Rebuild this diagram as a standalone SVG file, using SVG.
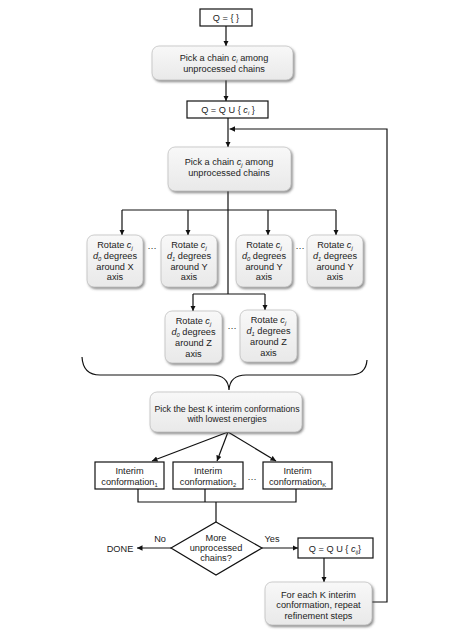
<svg xmlns="http://www.w3.org/2000/svg" width="474" height="631" viewBox="0 0 474 631">
<defs>
<linearGradient id="g" x1="0" y1="0" x2="0" y2="1">
<stop offset="0" stop-color="#f8f8f8"/>
<stop offset="1" stop-color="#e9e9e9"/>
</linearGradient>
<filter id="sh" x="-20%" y="-20%" width="140%" height="150%">
<feDropShadow dx="1.5" dy="1.8" stdDeviation="1" flood-color="#444" flood-opacity="0.6"/>
</filter>
<marker id="ah" viewBox="0 0 10 10" refX="10" refY="5" markerWidth="5.5" markerHeight="5.5" orient="auto" markerUnits="userSpaceOnUse">
<path d="M0,0 L10,5 L0,10 z" fill="#111"/>
</marker>
<style>
text{font-family:"Liberation Sans",Arial,sans-serif;font-size:9.2px;fill:#222;text-anchor:middle}
.rb{fill:url(#g);stroke:#b0b0b0;stroke-width:0.6;filter:url(#sh)}
.sb{fill:#fff;stroke:#111;stroke-width:1.2}
.ln{fill:none;stroke:#111;stroke-width:1.2}
.ar{fill:none;stroke:#111;stroke-width:1.2;marker-end:url(#ah)}
.it{font-style:italic}
.sub{font-size:5.8px}
.sm{font-size:8.8px}
</style>
</defs>
<rect width="474" height="631" fill="#fff"/>

<g id="connectors">
<line class="ar" x1="226" y1="26" x2="226" y2="46"/>
<line class="ar" x1="226" y1="80" x2="226" y2="101"/>
<line class="ar" x1="228" y1="118" x2="228" y2="147"/>
<polyline class="ar" points="372,602 387,602 387,129 229.5,129"/>
<line class="ln" x1="228" y1="191" x2="228" y2="294"/>
<line class="ln" x1="122" y1="210" x2="336" y2="210"/>
<line class="ar" x1="122" y1="210" x2="122" y2="235"/>
<line class="ar" x1="188" y1="210" x2="188" y2="235"/>
<line class="ar" x1="268" y1="210" x2="268" y2="235"/>
<line class="ar" x1="336" y1="210" x2="336" y2="235"/>
<line class="ln" x1="193" y1="294" x2="265" y2="294"/>
<line class="ar" x1="193" y1="294" x2="193" y2="311"/>
<line class="ar" x1="265" y1="294" x2="265" y2="310"/>
<path class="ln" d="M82,357 Q83,375 100,375 L212,375 Q228,375 229,390 Q230,375 246,375 L350,375 Q366,375 367,360"/>
<line class="ar" x1="228" y1="432" x2="152" y2="461"/>
<line class="ar" x1="228" y1="432" x2="217" y2="461"/>
<line class="ar" x1="228" y1="432" x2="276" y2="461"/>
<polyline class="ln" points="138,489 138,502 296,502 296,489"/>
<line class="ln" x1="205" y1="489" x2="205" y2="502"/>
<line class="ln" x1="216" y1="502" x2="216" y2="522"/>
<line class="ar" x1="171" y1="548" x2="137" y2="548"/>
<line class="ar" x1="262" y1="548" x2="298" y2="548"/>
<line class="ar" x1="324" y1="558" x2="324" y2="582"/>
</g>

<g id="q0"><rect class="sb" x="200" y="9" width="52" height="17"/><text x="226" y="21">Q = { }</text></g>

<g id="pick-ci"><rect class="rb" x="152" y="46" width="141" height="34" rx="7"/>
<text x="224" y="60.5">Pick a chain <tspan class="it">c</tspan><tspan class="sub it" dy="2">i</tspan><tspan dy="-2"> among</tspan></text>
<text x="224" y="71.5">unprocessed chains</text></g>

<g id="q1"><rect class="sb" x="187" y="101" width="81" height="17"/>
<text x="228" y="113">Q = Q U { <tspan class="it">c</tspan><tspan class="sub it" dy="2">i</tspan><tspan dy="-2"> }</tspan></text></g>

<g id="pick-cj"><rect class="rb" x="168" y="147" width="123" height="44" rx="7"/>
<text x="229" y="165">Pick a chain <tspan class="it">c</tspan><tspan class="sub it" dy="2">j</tspan><tspan dy="-2"> among</tspan></text>
<text x="229" y="176">unprocessed chains</text></g>

<g id="rot-x0"><rect class="rb" x="87" y="235" width="56" height="52" rx="7"/>
<text x="115" y="247.5">Rotate <tspan class="it">c</tspan><tspan class="sub it" dy="2">j</tspan></text>
<text x="115" y="258.5"><tspan class="it">d</tspan><tspan class="sub it" dy="2">0</tspan><tspan dy="-2"> degrees</tspan></text>
<text x="115" y="269.5">around X</text>
<text x="115" y="280">axis</text></g>
<text x="152" y="251">···</text>

<g id="rot-y1a"><rect class="rb" x="161" y="235" width="56" height="52" rx="7"/>
<text x="189" y="247.5">Rotate <tspan class="it">c</tspan><tspan class="sub it" dy="2">j</tspan></text>
<text x="189" y="258.5"><tspan class="it">d</tspan><tspan class="sub it" dy="2">1</tspan><tspan dy="-2"> degrees</tspan></text>
<text x="189" y="269.5">around Y</text>
<text x="189" y="280">axis</text></g>

<g id="rot-y0"><rect class="rb" x="236" y="235" width="56" height="52" rx="7"/>
<text x="264" y="247.5">Rotate <tspan class="it">c</tspan><tspan class="sub it" dy="2">j</tspan></text>
<text x="264" y="258.5"><tspan class="it">d</tspan><tspan class="sub it" dy="2">0</tspan><tspan dy="-2"> degrees</tspan></text>
<text x="264" y="269.5">around Y</text>
<text x="264" y="280">axis</text></g>
<text x="300" y="251">···</text>

<g id="rot-y1b"><rect class="rb" x="307" y="235" width="56" height="52" rx="7"/>
<text x="335" y="247.5">Rotate <tspan class="it">c</tspan><tspan class="sub it" dy="2">j</tspan></text>
<text x="335" y="258.5"><tspan class="it">d</tspan><tspan class="sub it" dy="2">1</tspan><tspan dy="-2"> degrees</tspan></text>
<text x="335" y="269.5">around Y</text>
<text x="335" y="280">axis</text></g>

<g id="rot-z0"><rect class="rb" x="165" y="311" width="57" height="52" rx="7"/>
<text x="193.5" y="324">Rotate <tspan class="it">c</tspan><tspan class="sub it" dy="2">j</tspan></text>
<text x="193.5" y="335"><tspan class="it">d</tspan><tspan class="sub it" dy="2">0</tspan><tspan dy="-2"> degrees</tspan></text>
<text x="193.5" y="346">around Z</text>
<text x="193.5" y="356.5">axis</text></g>
<text x="232" y="331">···</text>

<g id="rot-z1"><rect class="rb" x="240" y="310" width="57" height="52" rx="7"/>
<text x="268.5" y="323">Rotate <tspan class="it">c</tspan><tspan class="sub it" dy="2">j</tspan></text>
<text x="268.5" y="334"><tspan class="it">d</tspan><tspan class="sub it" dy="2">1</tspan><tspan dy="-2"> degrees</tspan></text>
<text x="268.5" y="345">around Z</text>
<text x="268.5" y="355.5">axis</text></g>

<g id="pick-k"><rect class="rb" x="150" y="392" width="152" height="40" rx="7"/>
<text class="sm" x="227" y="411.5">Pick the best K interim conformations</text>
<text class="sm" x="227" y="422">with lowest energies</text></g>

<g id="interim1"><rect class="sb" x="95" y="462" width="69" height="27"/>
<text x="129.5" y="474">Interim</text>
<text x="129.5" y="485">conformation<tspan class="sub" dy="2">1</tspan></text></g>

<g id="interim2"><rect class="sb" x="173" y="462" width="70" height="27"/>
<text x="208" y="474">Interim</text>
<text x="208" y="485">conformation<tspan class="sub" dy="2">2</tspan></text></g>
<text x="252" y="482">···</text>

<g id="interimK"><rect class="sb" x="263" y="462" width="69" height="27"/>
<text x="297.5" y="474">Interim</text>
<text x="297.5" y="485">conformation<tspan class="sub" dy="2">K</tspan></text></g>

<g id="decision"><polygon points="216,522 262,548 216,575 171,548" fill="#fff" stroke="#111" stroke-width="1.2"/>
<text x="216" y="541">More</text>
<text x="216" y="551">unprocessed</text>
<text x="216" y="561">chains?</text></g>

<text x="160" y="542">No</text>
<text x="272" y="542">Yes</text>
<g id="done"><text x="120" y="551.5">DONE</text></g>

<g id="q2"><rect class="sb" x="298" y="538" width="75" height="20"/>
<text x="335" y="551.5">Q = Q U { <tspan class="it">c</tspan><tspan class="sub it" dy="2">ij</tspan><tspan dy="-2">}</tspan></text></g>

<g id="refine"><rect class="rb" x="265" y="582" width="107" height="43" rx="7"/>
<text x="318.5" y="598">For each K interim</text>
<text x="318.5" y="608">conformation, repeat</text>
<text x="318.5" y="618.5">refinement steps</text></g>
</svg>
